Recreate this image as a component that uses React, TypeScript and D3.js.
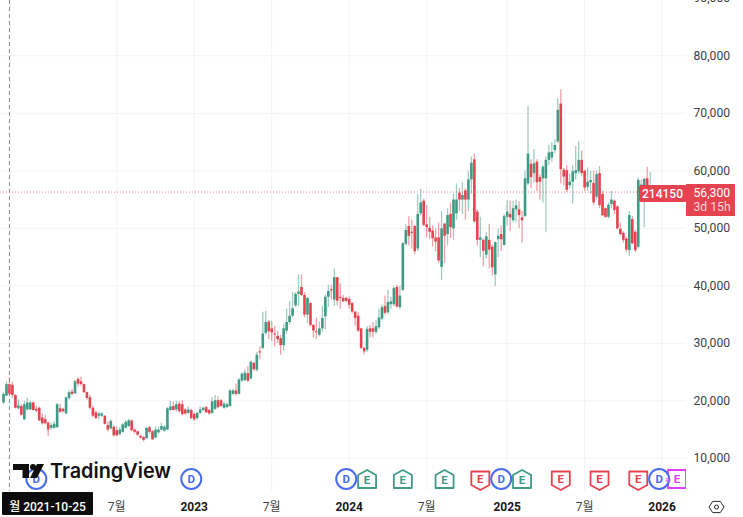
import React, { useRef, useEffect } from 'react';
import * as d3 from 'd3';

// weekly candles in thousands of won, first week 2021-10-11
const opens = [
  19.7,20.9,22.9,22.8,21,18.7,19.1,16.8,18.5,18.5,
  19.7,18.6,18.8,17.1,16.8,16.2,15.3,15.3,15.4,18.7,
  18.6,17.8,20.5,21.6,21.3,23.8,23.4,22.9,21.5,20.6,
  18.8,18,17.4,17.4,17.4,15.8,15.2,15.5,14.9,14.2,
  14.6,15.3,15.6,16.6,15,14.7,13.9,13.7,13.5,15.4,
  14.7,13.6,14.5,15,14.8,15,18.4,19.1,18.5,19.5,
  19.4,18.5,17.9,18.4,17.7,17,17.9,18.4,18.9,18.4,
  17.9,18.6,20.1,20.1,18.8,18.9,19.1,21.2,21.8,21.2,
  23.5,23.6,24.8,23.9,26.6,25.4,28.6,29.2,31.8,33.8,
  32.6,31.7,31.3,30.9,29.7,32.2,33.7,34.8,36.6,38.6,
  39.8,38.4,35,37,33.2,32.1,31.5,32.6,34.7,38.1,
  39.4,37.6,41.5,38.1,37.9,37.9,37.7,37,35.5,34.8,
  32.6,29.2,28.9,32.6,32.6,32,32.8,34.3,36.5,35.4,
  36.8,36.8,39.8,36.3,39.3,47.3,50.4,49.4,50.4,46.5,
  52.6,54.8,50.7,50.1,49.6,48.4,48.4,43.3,50.8,49,
  52.5,50,52.6,56.2,55,56.6,55,58.5,62,52.9,
  48,48,45.4,48,46.8,42,48.1,49,47.1,52,
  52.5,51.4,53.3,53.3,51.9,52.1,57.8,61.2,59.6,61.6,
  58.9,58.7,58.7,61.9,62.3,63.6,65.1,71.7,60.2,60.1,
  57.5,58.1,59.6,59.9,61.9,60,57.2,58,57.9,55.5,
  59.6,56,53.5,52,54.2,54.8,53.8,49.9,49.2,48.2,
  46.2,51.6,49.4,46.8,55,57.5,58.7,56,
];
const closes = [
  21.2,22.9,21.2,21,18.8,19.2,17.6,19.4,19.7,19.7,
  18.4,18.3,16.6,16.1,16.1,15,15.8,16,19.4,18.1,
  18.2,20.6,21.5,21.2,23.4,23,22.9,21.5,20.5,18.8,
  17.4,17,17.8,17.8,16,15,16.5,14,14,15,
  15.9,16.3,16.6,14.9,14.6,14.1,13.6,13.2,15.3,14.6,
  13.3,15,15,15.6,15.5,18.7,19,18.4,19.4,18.2,
  17.7,17.8,18.5,17,16.8,17.9,18.5,18.8,18,17.8,
  19.9,20.1,18.9,19.1,19.5,19.4,21.8,21.8,21.2,23.7,
  24.7,24.9,23.5,26.8,25.5,28,28.4,31.7,33.7,32.1,
  31.9,31.6,30.7,29.7,32.6,33.7,34.8,36.1,38.6,39,
  38.4,35,37.9,33.2,32.2,32,32.6,34.4,38.1,39.1,
  39.2,41.5,37.4,37.9,37.3,37.4,36.7,35.5,34.4,32.2,
  29.2,28.6,32.5,32,32,33,34.5,36.3,35.3,37.2,
  37.3,39.6,36.4,38.3,47.4,49.7,48.7,49.2,46,52.5,
  54.5,50.6,50.2,49.4,48.3,47.7,44.4,50,48.7,52.3,
  50.2,55,55,55,55.8,55,58.5,61.4,51.2,48,
  48.4,46.1,48.6,46.3,43.2,47.6,48.7,48.1,52.1,52.9,
  51.9,53.5,54,52.3,51.4,58.7,63,58.9,61.3,58,
  58.1,60.7,61.9,63.2,63.3,64.5,70.6,60.3,59,56.7,
  58.1,59.9,60.1,61.9,59.6,57.1,58.1,58.4,54.5,59.4,
  54,52.3,52,54.1,55,53.2,50,49,48,46.3,
  52.3,47.4,46.2,58.4,57.6,58.6,56.8,56.3,
];
const highs = [
  21.5,23.4,24.1,23.3,21.2,20.2,19.5,20,20.5,20,
  19.9,19.1,19,17.8,17.6,16.4,16.2,16.5,19.6,19.5,
  18.8,20.7,21.9,22.1,23.6,24.1,24.2,23,21.6,21,
  19.2,18.3,18.1,18,17.5,16.4,16.8,15.7,15.5,15.4,
  16.1,16.6,16.9,16.7,15.2,14.8,14.1,13.9,15.4,15.7,
  14.9,15.6,15.5,16.2,15.8,18.9,20,19.9,20,20,
  20.1,18.7,19,18.6,18,18.1,19,19,19.1,18.6,
  20.6,21,20.8,20.3,19.9,19.7,22,22.1,23,24,
  25,25.5,26,27,26.8,28.5,29.5,35.5,35.6,34,
  33.9,33,32.2,31.5,33.4,36,37.3,39,38.9,42,
  42,38.9,38,37.2,33.3,34.5,33.8,36.5,38.5,40.2,
  40.2,43,41.5,40.5,38.4,38.1,38.2,37.2,35.6,35.5,
  32.7,29.4,33,33.2,33.7,34,36,36.7,38.3,39.3,
  38.1,40,40.2,40,47.6,50.8,52.1,51.5,50.6,56,
  56.9,55.2,54,52,50.5,50,51,53,51,53.5,
  54.5,56,57.8,57,58,57,60,62.5,63,53.3,
  52,48.2,49.3,50.8,47.2,47.7,50,50.5,52.5,54.9,
  54.8,54.8,55,54.7,53,60,71.3,62,63.8,62,
  59.3,61,62.5,64.5,65,65.5,72.6,74.2,60.5,61,
  59.5,61,64.3,65.1,63.5,60.2,60.6,60,60,60,
  60.8,56.5,53.6,54.5,56.5,55,54,51,49.5,48.5,
  53,52.2,49.7,58.8,58.5,58.8,60.7,59.8,
];
const lows = [
  19.5,20.8,21,20.5,18.7,18.5,17.4,16.6,18.3,18.4,
  18.3,18,16.5,15.9,15.9,13.9,15,15.2,15.3,17.9,
  18,17.7,20.2,21,21.2,22.5,22.6,21.4,20.2,18.5,
  17.2,16.9,16.8,17.2,15.9,14.7,15,13.8,13.9,14,
  14.5,15.2,15.5,14.7,14.3,13.9,13.4,12.9,13.4,14.3,
  13.2,13.5,14.3,14.9,14.6,14.9,18.2,18.3,18.1,18,
  17.5,17.5,17.7,16.8,16.5,16.7,17.7,18.2,17.9,17.6,
  17.7,18.4,18.7,19,18.6,18.8,19,21,20.9,21.1,
  23.3,23.4,23.3,23.7,25.2,25.1,27.2,29,31.5,30.7,
  30.4,29.5,30,28,28.7,31.7,33.3,34.5,36.3,36.5,
  38.2,34.5,33.5,32.9,31,30.7,31.2,32,32.5,36.3,
  37.6,36.5,36.6,36,37.2,37.2,36,35.2,33.1,32,
  29,28,28.5,31,31,31.6,32.5,34,35,35.1,
  36,36.5,36.2,36,39.1,47,47,46.5,45.5,46,
  52.3,50.4,48.5,48.2,46.8,46,44,41,44,47,
  48.3,48,51.5,53,52.5,51.5,53,56,51,47,
  45,43.5,44.8,43,41.8,40,45,46,47,50.5,
  49.5,51,51,50,47.5,52,57.5,57,58,56.5,
  55,54.5,49.3,61,61.5,63,64.8,57.8,57.5,56.3,
  57,54.3,58.5,59.5,59,56.5,56.5,56,54,55,
  53.5,52.1,51.8,51.7,53.5,52.5,49.8,48.8,47.5,45.9,
  45.2,47.2,45.9,46.6,54.6,50.2,56,55.8,
];

const priceTicks = [10, 20, 30, 40, 50, 60, 70, 80, 90];
const timeTicks = [38, 64, 90, 116, 142, 169, 195, 221];
const timeLabels = ['7월', '2023', '7월', '2024', '7월', '2025', '7월', '2026'];
const crosshairWeek = 2;
const crosshairLabel = '월 2021-10-25';
const lastPrice = 56.3;
const dividendWeeks = [11, 63, 115, 167, 220];
const beatWeeks = [122, 134, 148, 174];
const missWeeks = [160, 187, 200, 213];
const nextEarningsWeek = 226;

const GREEN = '#3f9b85';
const RED = '#e5434f';
const BLUE = '#4a6cf0';
const MAGENTA = '#e040fb';
const FONT = 'Roboto, "Noto Sans CJK KR", sans-serif';

export default function App() {
  const ref = useRef<SVGSVGElement>(null);

  useEffect(() => {
    if (!ref.current) return;
    const svg = d3.select(ref.current);
    svg.selectAll('*').remove();

    const x = d3.scaleLinear().domain([0, 217]).range([3.5, 650.2]);
    const y = d3.scaleLinear().domain([10, 70]).range([458.3, 113.3]);
    const paneRight = 686;
    const paneBottom = 491;

    svg.append('defs').append('clipPath').attr('id', 'pane')
      .append('rect').attr('width', paneRight).attr('height', paneBottom);

    // grid
    svg.append('g').selectAll('line').data(priceTicks).join('line')
      .attr('x1', 0).attr('x2', paneRight)
      .attr('y1', d => y(d)).attr('y2', d => y(d))
      .attr('stroke', '#f3f3f3');
    svg.append('g').selectAll('line').data(timeTicks).join('line')
      .attr('x1', d => x(d)).attr('x2', d => x(d))
      .attr('y1', 0).attr('y2', paneBottom)
      .attr('stroke', '#f3f3f3');

    // last price line
    svg.append('line')
      .attr('x1', 0).attr('x2', paneRight)
      .attr('y1', y(lastPrice)).attr('y2', y(lastPrice))
      .attr('stroke', '#e5434f').attr('stroke-opacity', 0.7)
      .attr('stroke-dasharray', '1 2');

    // candles
    const candles = svg.append('g').selectAll('g').data(d3.range(opens.length)).join('g');
    const color = (i: number) => (closes[i] >= opens[i] ? GREEN : RED);
    candles.append('line')
      .attr('x1', i => x(i)).attr('x2', i => x(i))
      .attr('y1', i => y(highs[i])).attr('y2', i => y(lows[i]))
      .attr('stroke', color).attr('stroke-width', 1.3).attr('stroke-opacity', 0.5);
    candles.append('rect')
      .attr('x', i => x(i) - 1.3).attr('width', 2.6)
      .attr('y', i => y(Math.max(opens[i], closes[i])))
      .attr('height', i => Math.max(1, Math.abs(y(opens[i]) - y(closes[i]))))
      .attr('fill', color);

    // crosshair
    svg.append('line')
      .attr('x1', x(crosshairWeek)).attr('x2', x(crosshairWeek))
      .attr('y1', 0).attr('y2', paneBottom)
      .attr('stroke', '#8a8a8a').attr('stroke-dasharray', '4 3');

    // event badges
    const events = svg.append('g').attr('clip-path', 'url(#pane)');
    const badgeText = (g: any, cx: number, cy: number, label: string, fill: string) =>
      g.append('text').attr('x', cx).attr('y', cy + 4)
        .attr('text-anchor', 'middle').attr('fill', fill)
        .attr('font-family', FONT).attr('font-size', 11.5).attr('font-weight', 700)
        .text(label);

    missWeeks.forEach(w => {
      const cx = x(w);
      events.append('path')
        .attr('d', `M${cx - 9},471.5 H${cx + 9} V485 L${cx},490 L${cx - 9},485 Z`)
        .attr('fill', '#fff').attr('stroke', RED).attr('stroke-width', 1.8).attr('stroke-linejoin', 'round');
      badgeText(events, cx, 479, 'E', RED);
    });
    beatWeeks.forEach(w => {
      const cx = x(w);
      events.append('path')
        .attr('d', `M${cx - 9},488 H${cx + 9} V475 L${cx},470 L${cx - 9},475 Z`)
        .attr('fill', '#fff').attr('stroke', GREEN).attr('stroke-width', 1.8).attr('stroke-linejoin', 'round');
      badgeText(events, cx, 480, 'E', GREEN);
    });
    const nx = x(nextEarningsWeek);
    events.append('path')
      .attr('d', `M${nx - 9},470 H${nx + 9} V488 H${nx - 9} Z`)
      .attr('fill', '#fff').attr('stroke', MAGENTA).attr('stroke-width', 1.8);
    badgeText(events, nx, 479, 'E', MAGENTA);
    dividendWeeks.forEach(w => {
      const cx = x(w);
      events.append('circle').attr('cx', cx).attr('cy', 479).attr('r', 10)
        .attr('fill', '#fff').attr('stroke', BLUE).attr('stroke-width', 2);
      badgeText(events, cx, 479, 'D', BLUE);
    });
    events.append('text').attr('x', nx - 9).attr('y', 483)
      .attr('text-anchor', 'middle').attr('fill', MAGENTA)
      .attr('font-family', FONT).attr('font-size', 10).attr('font-weight', 700)
      .text('≈');

    // logo
    const logo = svg.append('g');
    logo.append('path').attr('d', 'M13,464 H29 V478 H22.5 V470 H13 Z').attr('fill', '#0f0f0f');
    logo.append('circle').attr('cx', 33).attr('cy', 467).attr('r', 3).attr('fill', '#0f0f0f');
    logo.append('path').attr('d', 'M37,464 H44 L37,478 H30 Z').attr('fill', '#0f0f0f');
    logo.append('text').attr('x', 50).attr('y', 477.5)
      .attr('font-family', 'Inter, Roboto, sans-serif').attr('font-size', 20.5).attr('font-weight', 600)
      .attr('fill', '#131313').attr('textLength', 121).attr('lengthAdjust', 'spacingAndGlyphs')
      .text('TradingView');

    // price axis
    svg.append('g').selectAll('text').data(priceTicks).join('text')
      .attr('x', 693.5).attr('y', d => y(d) + 4)
      .attr('font-family', FONT).attr('font-size', 12.2).attr('fill', '#3f3f3f')
      .text(d => d3.format(',')(d * 1000));

    // time axis
    svg.append('g').selectAll('text').data(timeTicks).join('text')
      .attr('x', d => x(d)).attr('y', 511)
      .attr('text-anchor', 'middle')
      .attr('font-family', FONT).attr('font-size', 12)
      .attr('font-weight', (_, i) => (timeLabels[i].length > 2 ? 700 : 400))
      .attr('fill', (_, i) => (timeLabels[i].length > 2 ? '#1a1a1a' : '#3f3f3f'))
      .text((_, i) => timeLabels[i]);

    svg.append('rect').attr('x', 2).attr('y', 492).attr('width', 91).attr('height', 23).attr('rx', 1).attr('fill', '#0c0c0c');
    svg.append('text').attr('x', 47.5).attr('y', 511)
      .attr('text-anchor', 'middle').attr('fill', '#fff')
      .attr('font-family', FONT).attr('font-size', 12).attr('font-weight', 500)
      .text(crosshairLabel);

    // last price labels
    svg.append('rect').attr('x', 639).attr('y', 185).attr('width', 48).attr('height', 17).attr('rx', 2).attr('fill', RED);
    svg.append('text').attr('x', 662.5).attr('y', 198)
      .attr('text-anchor', 'middle').attr('fill', '#fff')
      .attr('font-family', FONT).attr('font-size', 12).attr('font-weight', 500)
      .text('214150');
    svg.append('rect').attr('x', 686).attr('y', 184).attr('width', 49).attr('height', 32).attr('fill', RED);
    svg.append('text').attr('x', 693.5).attr('y', 197)
      .attr('fill', '#fff').attr('font-family', FONT).attr('font-size', 12.2)
      .text(d3.format(',')(lastPrice * 1000));
    svg.append('text').attr('x', 693.5).attr('y', 211)
      .attr('fill', '#fbd5d8').attr('font-family', FONT).attr('font-size', 12.2)
      .text('3d 15h');

    // settings icon
    const hex = d3.line()(d3.range(6).map(k => {
      const a = (k * Math.PI) / 3;
      return [716.5 + 7.5 * Math.cos(a), 507 + 6.5 * Math.sin(a)] as [number, number];
    })) + 'Z';
    svg.append('path').attr('d', hex).attr('fill', 'none').attr('stroke', '#2a2a2a').attr('stroke-linejoin', 'round');
    svg.append('circle').attr('cx', 716.5).attr('cy', 507).attr('r', 2).attr('fill', 'none').attr('stroke', '#2a2a2a');
  }, []);

  return (
    <svg
      ref={ref}
      width={743}
      height={517}
      style={{ position: 'absolute', top: 0, left: 0, display: 'block', background: '#fff' }}
    />
  );
}
